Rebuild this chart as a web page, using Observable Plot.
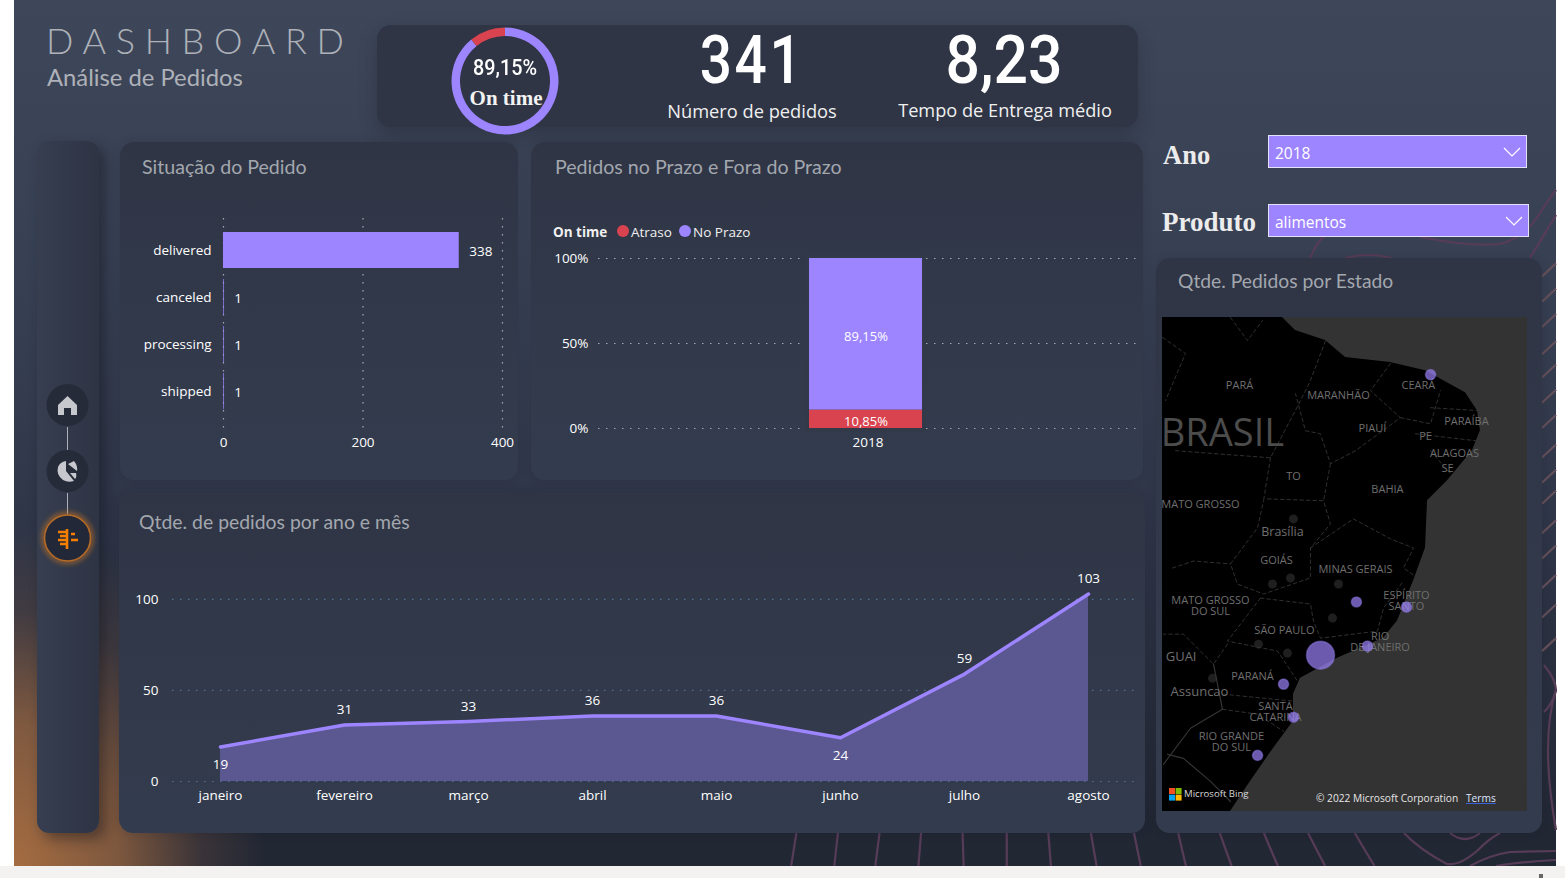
<!DOCTYPE html>
<html lang="pt">
<head>
<meta charset="utf-8">
<script src="https://cdn.jsdelivr.net/npm/d3@7"></script>
<script src="https://cdn.jsdelivr.net/npm/@observablehq/plot@0.6"></script>
<style>
html,body{margin:0;padding:0;width:1565px;height:878px;overflow:hidden;background:#fff;font-family:"Open Sans",sans-serif}
#stage{position:relative;width:1565px;height:878px;overflow:hidden}
#bg{position:absolute;left:14px;top:0;width:1542px;height:866px;
 background:radial-gradient(ellipse 250px 340px at 0px 866px,rgba(176,114,66,.92) 0%,rgba(160,106,66,.72) 42%,rgba(120,84,66,.28) 75%,rgba(60,60,70,0) 100%),linear-gradient(#3e4759 0%,#384154 30%,#2f3648 60%,#222734 96%)}
#strip{position:absolute;left:0;top:866px;width:1565px;height:12px;background:#f3f2f1}
#strip i{position:absolute;left:1539px;top:8px;width:4px;height:4px;background:#666}
.panel{position:absolute;border-radius:14px;background:linear-gradient(#2f3545,#333c4e);box-shadow:0 0 10px rgba(20,24,34,.18)}
.abs{position:absolute;white-space:nowrap}
.ttl{position:absolute;white-space:nowrap;font-family:Lato,sans-serif;font-size:19.6px;color:#a3a7ae;line-height:24px}
.plot{position:absolute}
.dd{position:absolute;box-sizing:border-box;background:#9d85ff;border:1px solid #e4e2f6;color:#fff;font-size:15.5px;line-height:35px;padding-left:6px}
.dd svg{position:absolute;right:5px;top:11px}
.serif{font-family:"Liberation Serif",serif;font-weight:700}
</style>
</head>
<body>
<div id="stage">
  <div id="bg"></div>
  <svg id="deco" class="abs" style="left:0;top:0" width="1565" height="878"></svg>
  <div id="strip"><i></i></div>

  <div class="abs" style="left:46px;top:18px;font-family:Lato,sans-serif;font-weight:300;font-size:36px;letter-spacing:9.7px;color:#aeb1b8;line-height:44px">DASHBOARD</div>
  <div class="abs" style="left:47px;top:62px;font-family:Lato,sans-serif;font-size:23.8px;color:#aeb1b8;line-height:30px">Análise de Pedidos</div>

  <div class="panel" style="left:377px;top:25px;width:761px;height:102px;background:#2f3545;box-shadow:0 8px 18px rgba(20,24,34,.3)"></div>
  <div class="panel" style="left:37px;top:141px;width:62px;height:692px;border-radius:12px;background:linear-gradient(90deg,#363e50,#2e3444);box-shadow:6px 6px 14px rgba(15,18,26,.45)"></div>
  <div class="panel" style="left:120px;top:142px;width:398px;height:338px"></div>
  <div class="panel" style="left:531px;top:142px;width:612px;height:338px"></div>
  <div class="panel" style="left:119px;top:492px;width:1026px;height:341px"></div>
  <div class="panel" style="left:1156px;top:258px;width:386px;height:575px"></div>

  <div id="donut" class="plot" style="left:445px;top:20px"></div>
  <div class="abs" style="left:445px;top:55px;width:120px;text-align:center;font-family:Roboto,sans-serif;font-weight:500;font-size:21.5px;color:#fff;line-height:26px;transform:scaleX(.92)">89,15%</div>
  <div class="abs serif" style="left:445px;top:85px;width:122px;text-align:center;font-size:21px;color:#f2f2f2;line-height:26px">On time</div>

  <div class="abs" style="left:652px;top:22px;width:200px;text-align:center;font-family:Roboto,sans-serif;font-weight:500;font-size:66px;letter-spacing:3px;color:#fff;line-height:78px;transform:scaleX(.86)">341</div>
  <div class="abs" style="left:652px;top:97px;width:200px;text-align:center;font-size:18.25px;color:#f0f0f0;line-height:27px">Número de pedidos</div>
  <div class="abs" style="left:904px;top:22px;width:200px;text-align:center;font-family:Roboto,sans-serif;font-weight:500;font-size:66px;color:#fff;line-height:78px;transform:scaleX(.92)">8,23</div>
  <div class="abs" style="left:885px;top:97px;width:240px;text-align:center;font-size:18.2px;color:#f0f0f0;line-height:27px">Tempo de Entrega médio</div>

  <div class="ttl" style="left:142px;top:155px">Situação do Pedido</div>
  <div class="ttl" style="left:555px;top:155px">Pedidos no Prazo e Fora do Prazo</div>
  <div class="ttl" style="left:139px;top:510px;font-size:19.4px">Qtde. de pedidos por ano e mês</div>
  <div class="ttl" style="left:1178px;top:269px;font-size:19.3px">Qtde. Pedidos por Estado</div>

  <div class="abs serif" style="left:1163px;top:140px;font-size:26.5px;color:#ececec;line-height:30px">Ano</div>
  <div class="abs serif" style="left:1162px;top:207px;font-size:27px;color:#ececec;line-height:30px">Produto</div>
  <div class="dd" style="left:1268px;top:135px;width:259px;height:33px">2018<svg width="18" height="10"><path d="M1 1 L9 9 L17 1" fill="none" stroke="#fff" stroke-width="1.2"/></svg></div>
  <div class="dd" style="left:1268px;top:204px;width:261px;height:33px">alimentos<svg width="18" height="10"><path d="M1 1 L9 9 L17 1" fill="none" stroke="#fff" stroke-width="1.2"/></svg></div>

  <div id="status" class="plot" style="left:120px;top:200px"></div>
  <div id="ontime" class="plot" style="left:531px;top:240px"></div>
  <div id="monthly" class="plot" style="left:119px;top:560px"></div>
  <div id="map" class="plot" style="left:1162px;top:317px"></div>

  <div class="abs" style="left:553px;top:223px;font-size:13.5px;line-height:18px;color:#f0f0f0;font-weight:700">On time</div>
  <div class="abs" style="left:617px;top:225px;width:12px;height:12px;border-radius:50%;background:#d9434f"></div>
  <div class="abs" style="left:631px;top:223px;font-size:13.5px;line-height:18px;color:#f0f0f0">Atraso</div>
  <div class="abs" style="left:679px;top:225px;width:12px;height:12px;border-radius:50%;background:#9d85ff"></div>
  <div class="abs" style="left:693px;top:223px;font-size:13.5px;line-height:18px;color:#f0f0f0">No Prazo</div>

  <svg class="abs" style="left:1169px;top:788px" width="13" height="13"><rect width="6" height="6" fill="#f25022"/><rect x="6.6" width="6" height="6" fill="#7fba00"/><rect y="6.6" width="6" height="6" fill="#00a4ef"/><rect x="6.6" y="6.6" width="6" height="6" fill="#ffb900"/></svg>
  <div class="abs" style="left:1184px;top:787px;font-size:9.6px;line-height:14px;color:#d8d8d8">Microsoft Bing</div>
  <div class="abs" style="left:1316px;top:791px;font-size:10.2px;line-height:14px;color:#e6e6e6">© 2022 Microsoft Corporation</div>
  <div class="abs" style="left:1466px;top:791px;font-size:10.2px;line-height:14px;color:#dfe6ff;text-decoration:underline;text-decoration-color:#3b62d8">Terms</div>

  <svg class="abs" style="left:30px;top:375px" width="80" height="200">
    <defs><filter id="glow" x="-40%" y="-40%" width="180%" height="180%"><feGaussianBlur stdDeviation="2.5"/></filter></defs>
    <line x1="37.5" y1="52" x2="37.5" y2="75" stroke="#aeb1b8"/>
    <line x1="37.5" y1="118" x2="37.5" y2="141" stroke="#aeb1b8"/>
    <circle cx="37.5" cy="30" r="21" fill="#262b3a"/>
    <circle cx="37.5" cy="96" r="21" fill="#262b3a"/>
    <circle cx="37.5" cy="163" r="24" fill="none" stroke="#b56a26" stroke-width="3" filter="url(#glow)"/>
    <circle cx="37.5" cy="163" r="23" fill="#232838" stroke="#b56a26" stroke-width="1.6"/>
    <path d="M28 30 L37.5 21 L47 30 L47 40 L41 40 L41 33 L34 33 L34 40 L28 40 Z" fill="#c6c8cd"/>
    <path d="M38 89 L44 86 Q48 91 47 96 Z M36 86 L36 96 L44 106 Q38 108 33 105 Q26 100 28 92 Q30 87 36 86 Z M46 98 Q47 102 45 104 L40 98 Z" fill="#c6c8cd"/>
    <path d="M37 154 V174 M28 157 H37 M30 161 H37 M28 165 H37 M30 169 H37 M41 159 H45 M41 165 H48" stroke="#f77f00" stroke-width="2.6" fill="none"/>
  </svg>
</div>

<script>
// Situação do Pedido
const statusNames = ["delivered", "canceled", "processing", "shipped"];
const statusValues = [338, 1, 1, 1];

// Pedidos no prazo / fora do prazo
const onTimeYears = ["2018", "2018"];
const onTimeLabels = ["Atraso", "No Prazo"];
const onTimeShare = [10.85, 89.15];

// Qtde. de pedidos por mês
const months = ["janeiro", "fevereiro", "março", "abril", "maio", "junho", "julho", "agosto"];
const monthOrders = [19, 31, 33, 36, 36, 24, 59, 103];

// Mapa: litoral (lon, lat)
const coastLon = [-49.38,-48.42,-46.21,-44.74,-41.44,-38.86,-35.92,-35.04,-34.82,-35.41,-37.24,-38.71,-38.86,-39.74,-40.92,-41.95,-45.33,-48.05,-48.57,-48.57,-50.04,-51.73,-53.2];
const coastLat = [0.4,-0.5,-1.19,-2.37,-2.71,-3.27,-4.79,-6.04,-7.42,-8.8,-10.88,-12.26,-15.52,-17.8,-20.57,-21.75,-23.13,-24.51,-25.62,-27.49,-29.36,-31.64,-33.72];

// Mapa: divisas estaduais (lon, lat por trecho)
const stateBorders = [
 [[-53.2,0.4],[-51.95,-1.19],[-50.85,0.19]],
 [[-58.2,-0.98],[-56.51,-2.09],[-57.98,-5.34]],
 [[-57.24,-8.8],[-50.26,-9.29],[-48.05,-5.34],[-47.32,-3.96],[-46.21,-1.19]],
 [[-50.26,-9.29],[-50.77,-12.26]],
 [[-41.44,-2.78],[-42.91,-4.65],[-40.7,-6.52],[-44.01,-8.8],[-45.85,-9.7],[-46.59,-7.63],[-47.69,-7.42],[-48.42,-4.86]],
 [[-40.7,-6.52],[-38.49,-6.94],[-37.76,-4.65]],
 [[-38.49,-5.83],[-34.82,-6.04]],
 [[-39.6,-7.63],[-35.19,-8.11]],
 [[-38.49,-8.8],[-37.02,-10.4]],
 [[-45.85,-9.7],[-46.36,-12.26]],
 [[-50.48,-12.13],[-46.36,-12.26],[-45.85,-13.86],[-47.32,-15.52],[-47.32,-17.59],[-50.77,-18.7],[-52.69,-18.01],[-53.2,-16.62],[-51.21,-14.13],[-50.77,-12.26]],
 [[-47.32,-15.52],[-44.16,-13.51],[-41.44,-14.89],[-39.74,-15.52],[-40.48,-16.9],[-39.45,-17.59]],
 [[-51,-18.98],[-47.32,-19.39],[-47.1,-20.57],[-46.58,-21.75],[-42.39,-21.26],[-41.95,-19.67],[-40.48,-17.8]],
 [[-57.46,-16.9],[-55.92,-16.42],[-53.2,-16.62]],
 [[-51,-18.98],[-53.42,-21.95],[-49.74,-22.64],[-48.27,-24.72]],
 [[-53.42,-22.16],[-54.45,-23.54],[-56.66,-21.47],[-58.13,-21.47]],
 [[-53.71,-25.62],[-48.57,-26.1]],
 [[-53.79,-26.66],[-51.21,-27],[-49.3,-28.18]]
];
const countryBorders = [
 [[-58.13,-30.46],[-56.14,-27.97],[-53.79,-26.66],[-54.45,-23.54]],
 [[-57.83,-29.77],[-56.66,-30.05],[-54.67,-31.64],[-53.2,-33.03]]
];

// Mapa: manchas urbanas
const urbanLon = [-48.57,-48.79,-50.11,-45.26,-45.7,-51.14,-49.01,-54.52];
const urbanLat = [-13.51,-17.59,-18.01,-18.01,-20.36,-22.16,-22.78,-24.51];

// Mapa: pedidos por estado
const stateNames = ["CE", "ES", "MG", "RJ", "SP", "PR", "SC", "RS"];
const stateLon = [-38.49,-40.26,-43.94,-43.13,-46.58,-49.3,-48.57,-51.21];
const stateLat = [-3.54,-19.6,-19.25,-22.3,-22.92,-24.93,-27.21,-29.84];
const stateOrders = [20, 20, 20, 20, 150, 20, 20, 20];

// Mapa: rótulos
const placeNames = ["PARÁ","MARANHÃO","CEARÁ","PIAUÍ","PARAÍBA","PE","ALAGOAS","SE","TO","BAHIA","MATO GROSSO","Brasília","GOIÁS","MINAS GERAIS","ESPÍRITO\nSANTO","MATO GROSSO\nDO SUL","SÃO PAULO","RIO\nDE JANEIRO","PARANÁ","Assuncao","SANTA\nCATARINA","RIO GRANDE\nDO SUL"];
const placeLon = [-52.54,-45.26,-39.38,-42.76,-35.85,-38.86,-36.73,-37.24,-48.57,-41.66,-55.41,-49.38,-49.82,-44.01,-40.26,-54.67,-49.23,-42.2,-51.58,-55.48,-49.89,-53.13];
const placeLat = [-4.31,-5,-4.31,-7.28,-6.8,-7.84,-9.01,-10.05,-10.6,-11.5,-12.54,-14.41,-16.35,-16.97,-19.18,-19.5,-21.19,-21.98,-24.37,-25.48,-26.82,-28.91];
const placeSize = [11,11,11,11,11,11,11,11,11,11,11,12.5,11,11,11,11,11,11,11,13,11,11];

const FONT = '"Open Sans",sans-serif';
const PURPLE = "#9d85ff", RED = "#d9434f", PANEL = "#323949";
const baseStyle = {background:"transparent", color:"#fff", fontFamily:FONT, fontSize:"13.5px", overflow:"visible"};

// ---- Donut
const donutData = d3.pie().sort(null).value(d => d.v)([
  {k:"No Prazo", v:onTimeShare[1], c:PURPLE},
  {k:"Atraso", v:onTimeShare[0], c:RED}
]);
document.getElementById("donut").append(Plot.plot({
  width:120, height:122, margin:0, style:{background:"transparent"},
  x:{axis:null, domain:[0,1]}, y:{axis:null, domain:[0,1]},
  marks:[() => {
    const g = d3.create("svg:g").attr("transform","translate(60,61)");
    const arc = d3.arc().innerRadius(45).outerRadius(53.5);
    g.selectAll("path").data(donutData).join("path").attr("d",arc).attr("fill",d=>d.data.c);
    return g.node();
  }]
}));

// ---- Situação do Pedido
const statusData = statusNames.map((name,i)=>({name, value:statusValues[i]}));
document.getElementById("status").append(Plot.plot({
  width:398, height:260, marginLeft:103, marginRight:16, marginTop:18, marginBottom:30,
  style:baseStyle,
  x:{domain:[0,400], ticks:[0,200,400], tickSize:0, tickPadding:7, label:null},
  y:{domain:statusNames, range:[19.7,220.3], padding:.24, tickSize:0, tickPadding:12, label:null},
  marks:[
    Plot.gridX({ticks:[0,200,400], stroke:"#a5a8b0", strokeOpacity:1, strokeWidth:1.2, strokeDasharray:"1.5 6.5"}),
    Plot.barX(statusData,{x:"value", y:"name", fill:PURPLE}),
    Plot.text(statusData,{x:"value", y:"name", text:d=>String(d.value), textAnchor:"start", dx:10, dy:1.5, fill:"#fff", fontSize:13.5})
  ]
}));

// ---- No prazo
const onTimeData = onTimeLabels.map((label,i)=>({year:onTimeYears[i], label, share:onTimeShare[i]}));
const pct = d => d.toFixed(2).replace(".",",")+"%";
document.getElementById("ontime").append(Plot.plot({
  width:612, height:210, marginLeft:67, marginRight:5, marginTop:18, marginBottom:22,
  style:baseStyle,
  x:{domain:["2018"], range:[62,607], padding:.6566, label:null, axis:null},
  y:{domain:[0,100], ticks:[0,50,100], tickFormat:d=>d+"%", tickSize:0, tickPadding:10, label:null},
  marks:[
    Plot.gridY({ticks:[0,50,100], stroke:"#a5a8b0", strokeOpacity:1, strokeWidth:1.2, strokeDasharray:"1.5 6.5"}),
    Plot.axisX({tickSize:0, tickPadding:9, dx:2, label:null}),
    Plot.barY(onTimeData,{x:"year", y:"share", z:"label", order:onTimeLabels, fill:PURPLE, stroke:PANEL, strokeWidth:7}),
    Plot.barY(onTimeData,{x:"year", y:"share", z:"label", order:onTimeLabels, fill:d=>d.label==="Atraso"?RED:PURPLE}),
    Plot.text(onTimeData,Plot.stackY({x:"year", y:"share", z:"label", order:onTimeLabels, text:d=>pct(d.share), fill:"#fff", fontSize:13, dy:2.5}))
  ]
}));

// ---- Mensal
const monthData = months.map((month,i)=>({month, orders:monthOrders[i]}));
document.getElementById("monthly").append(Plot.plot({
  width:1026, height:260, marginLeft:53, marginRight:10, marginTop:20, marginBottom:39,
  style:baseStyle,
  x:{type:"point", domain:months, range:[101,969], padding:0, tickSize:0, tickPadding:9, label:null},
  y:{domain:[0,110.4], ticks:[0,50,100], tickSize:0, tickPadding:14, label:null},
  marks:[
    Plot.gridY({ticks:[0,50,100], stroke:"#4f7199", strokeOpacity:1, strokeWidth:1.2, strokeDasharray:"1.5 6.5"}),
    Plot.areaY(monthData,{x:"month", y:"orders", fill:"#5b5790"}),
    Plot.lineY(monthData,{x:"month", y:"orders", stroke:PURPLE, strokeWidth:3.5, strokeLinecap:"round"}),
    Plot.text(monthData.filter(d=>d.orders===19||d.orders===24),{x:"month", y:"orders", text:d=>String(d.orders), dy:18, fill:"#fff", fontSize:13.5}),
    Plot.text(monthData.filter(d=>d.orders!==19&&d.orders!==24),{x:"month", y:"orders", text:d=>String(d.orders), dy:-15, fill:"#fff", fontSize:13.5})
  ]
}));

// ---- Mapa
const coast = coastLon.map((lon,i)=>({lon, lat:coastLat[i]}));
const LON0 = -58.2, LON1 = -31.36;
const lines = (arr) => arr.flatMap((seg,k)=>seg.map(([lon,lat])=>({k,lon,lat})));
const states = stateNames.map((name,i)=>({name, lon:stateLon[i], lat:stateLat[i], orders:stateOrders[i]}));
const urban = urbanLon.map((lon,i)=>({lon, lat:urbanLat[i]}));
const places = placeNames.map((name,i)=>({name, lon:placeLon[i], lat:placeLat[i], size:placeSize[i]}));
const placeText = (rows, size, fill) => Plot.text(rows,{x:"lon", y:"lat", text:"name", fill, fontSize:size, fontFamily:FONT});
document.getElementById("map").append(Plot.plot({
  width:365, height:494, margin:0,
  style:{background:"#333333", fontFamily:FONT},
  x:{axis:null, domain:[LON0,LON1]},
  y:{axis:null, domain:[-33.72,0.4]},
  r:{type:"sqrt", domain:[0,150], range:[0,14]},
  marks:[
    Plot.areaX(coast,{x1:()=>LON0, x2:"lon", y:"lat", fill:"#000"}),
    Plot.dot(urban,{x:"lon", y:"lat", r:4.5, fill:"#1f1f1f"}),
    Plot.line(lines(stateBorders),{x:"lon", y:"lat", z:"k", stroke:"#363636", strokeWidth:.9, strokeDasharray:"3.5 3"}),
    Plot.line(lines(countryBorders),{x:"lon", y:"lat", z:"k", stroke:"#343434", strokeWidth:1.2}),
    placeText(places.filter(d=>d.size===11),11,"#6f6f6f"),
    placeText(places.filter(d=>d.size===12.5),12.5,"#6f6f6f"),
    placeText(places.filter(d=>d.size===13),13,"#6f6f6f"),
    Plot.text(["BRASIL"],{x:()=>-53.79, y:()=>-7.63, text:d=>d, fill:"#4c4c4c", fontSize:38, fontFamily:FONT}),
    Plot.text(["GUAI"],{x:()=>-55.7, y:()=>-23.06, text:d=>d, textAnchor:"end", fill:"#6f6f6f", fontSize:13, fontFamily:FONT}),
    Plot.dot(states,{x:"lon", y:"lat", r:"orders", fill:PURPLE, fillOpacity:.68, stroke:PURPLE, strokeOpacity:.4})
  ]
}));

// ---- Fundo decorativo (curvas de nível)
const deco = d3.select("#deco");
const contour = "#573c58";
const bottomTops = [70,150,230,310,390,475,555,637,720,805,885,970,1055,1145].map(v=>760+v/1.925);
const bottomEnds = [60,143,222,305,392,475,560,648,733,820,908,997,1088,1183].map(v=>760+v/1.925);
bottomTops.forEach((x,i)=>deco.append("path")
  .attr("d",`M${x} 833 Q${(x+bottomEnds[i])/2} 850 ${bottomEnds[i]} 866`)
  .attr("fill","none").attr("stroke",contour).attr("stroke-width",2.2));
[210,270,330,395,450,510,570,640,700,750,820,880,950,1020,1100].forEach(z=>{
  const y = 180+z/2.375;
  deco.append("path").attr("d",`M1542 ${y+8} L1556 ${y-5}`).attr("fill","none").attr("stroke","#64505a").attr("stroke-width",2.2);
});
[
 "M1310 258 Q1318 240 1325 236",
 "M1420 237 Q1470 247 1500 244 Q1525 238 1540 213 Q1548 200 1556 190",
 "M1345 258 Q1368 252 1392 258",
 "M1530 258 L1556 215",
 "M1544 665 Q1556 680 1556 690 Q1552 705 1544 712",
 "M1556 690 Q1540 740 1556 830",
 "M1404 833 Q1420 850 1447 864 Q1460 866 1478 850 Q1490 838 1500 833",
 "M1470 866 Q1490 855 1510 852 L1556 851",
 "M1496 866 Q1520 862 1556 860",
 "M1450 833 Q1465 845 1480 833"
].forEach(d=>deco.append("path").attr("d",d).attr("fill","none").attr("stroke",contour).attr("stroke-width",2.2));
</script>
</body>
</html>
